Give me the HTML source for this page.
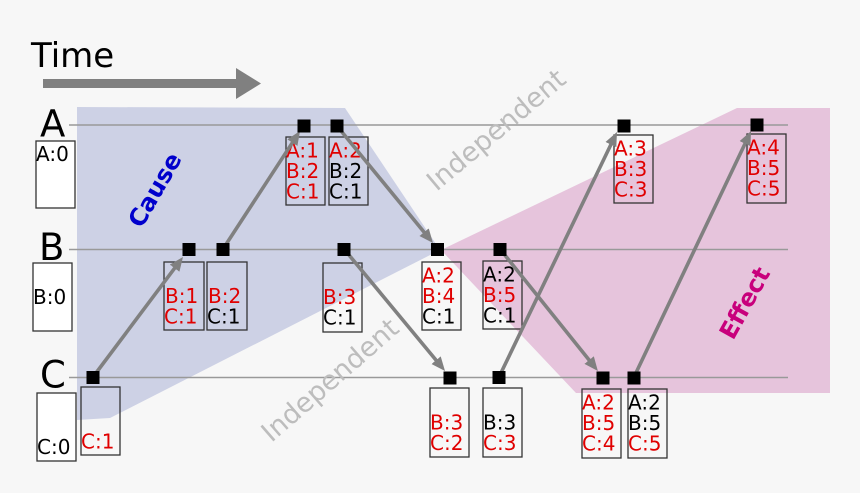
<!DOCTYPE html>
<html>
<head>
<meta charset="utf-8">
<style>
html,body{margin:0;padding:0;background:#f7f7f7;}
svg{display:block;}
text{font-family:"DejaVu Sans","Liberation Sans",sans-serif;}
</style>
</head>
<body>
<svg width="860" height="493" viewBox="0 0 860 493" xmlns="http://www.w3.org/2000/svg">
<defs>
<marker id="ah" markerUnits="userSpaceOnUse" viewBox="0 -7 16 14" markerWidth="16" markerHeight="14" refX="3" refY="0" orient="auto">
<path d="M0,-6 L14,0 L0,6 Z" fill="#808080"/>
</marker>
</defs>
<rect x="0" y="0" width="860" height="493" fill="#f7f7f7"/>

<!-- shading -->
<polygon points="77,107 345,108 440,250 110,418 77,420" fill="#cdd1e5"/>
<polygon points="441,250 737,108 830,108 830,393 576,393" fill="#e6c4dc"/>

<!-- Time -->
<text x="31" y="67" font-size="34" fill="#000">Time</text>
<rect x="43" y="79" width="194" height="9" fill="#808080"/>
<polygon points="236,68 261,83.5 236,99" fill="#808080"/>

<!-- timelines -->
<line x1="69" y1="125" x2="788" y2="125" stroke="#999" stroke-width="1.4"/>
<line x1="69" y1="249.5" x2="788" y2="249.5" stroke="#999" stroke-width="1.4"/>
<line x1="69" y1="377.5" x2="788" y2="377.5" stroke="#999" stroke-width="1.4"/>

<text x="40" y="136.5" font-size="37" fill="#000">A</text>
<text x="39" y="260" font-size="37" fill="#000">B</text>
<text x="40" y="387.5" font-size="37" fill="#000">C</text>

<!-- Independent labels -->
<text transform="translate(502,137) rotate(-40)" x="0" y="0" text-anchor="middle" font-size="27" fill="#bdbdbd">Independent</text>
<text transform="translate(336,387) rotate(-41)" x="0" y="0" text-anchor="middle" font-size="27" fill="#bdbdbd">Independent</text>

<!-- Cause / Effect -->
<text transform="translate(162,194) rotate(-60)" x="0" y="0" text-anchor="middle" font-size="24" font-weight="bold" fill="#0000cc">Cause</text>
<text transform="translate(752,307) rotate(-61)" x="0" y="0" text-anchor="middle" font-size="24" font-weight="bold" fill="#c8007c">Effect</text>

<!-- boxes -->
<g stroke="#333" stroke-width="1.3">
<rect x="36" y="141" width="39" height="67" fill="#fff"/>
<rect x="33" y="263" width="39" height="68" fill="#fff"/>
<rect x="37" y="393" width="39" height="68" fill="#fff"/>
<g fill="none">
<rect x="286" y="137" width="39" height="68"/>
<rect x="329" y="137" width="39" height="68"/>
<rect x="614" y="135" width="39" height="68"/>
<rect x="747" y="134" width="39" height="69"/>
<rect x="164" y="262" width="40" height="68"/>
<rect x="207" y="262" width="40" height="68"/>
<rect x="323" y="263" width="39" height="69"/>
<rect x="422" y="262" width="39" height="68"/>
<rect x="483" y="261" width="39" height="68"/>
<rect x="81" y="387" width="39" height="68"/>
<rect x="430" y="388" width="39" height="69"/>
<rect x="483" y="388" width="39" height="69"/>
<rect x="582" y="389" width="39" height="69"/>
<rect x="628" y="389" width="39" height="69"/>
</g>
</g>

<!-- box texts -->
<g font-size="20">
<text x="36" y="161" fill="#000">A:0</text>
<text x="33" y="304" fill="#000">B:0</text>
<text x="37" y="454" fill="#000">C:0</text>

<text x="286" y="157.5" fill="#e00000">A:1</text>
<text x="286" y="178" fill="#e00000">B:2</text>
<text x="286" y="198.5" fill="#e00000">C:1</text>

<text x="329" y="157.5" fill="#e00000">A:2</text>
<text x="329" y="178" fill="#000">B:2</text>
<text x="329" y="198.5" fill="#000">C:1</text>

<text x="614" y="155.5" fill="#e00000">A:3</text>
<text x="614" y="176" fill="#e00000">B:3</text>
<text x="614" y="196.5" fill="#e00000">C:3</text>

<text x="747" y="154.5" fill="#e00000">A:4</text>
<text x="747" y="175" fill="#e00000">B:5</text>
<text x="747" y="195.5" fill="#e00000">C:5</text>

<text x="165" y="303" fill="#e00000">B:1</text>
<text x="164" y="323.5" fill="#e00000">C:1</text>

<text x="208" y="303" fill="#e00000">B:2</text>
<text x="207" y="323.5" fill="#000">C:1</text>

<text x="323" y="304" fill="#e00000">B:3</text>
<text x="323" y="324.5" fill="#000">C:1</text>

<text x="422" y="282.5" fill="#e00000">A:2</text>
<text x="422" y="303" fill="#e00000">B:4</text>
<text x="422" y="323.5" fill="#000">C:1</text>

<text x="483" y="281.5" fill="#000">A:2</text>
<text x="483" y="302" fill="#e00000">B:5</text>
<text x="483" y="322.5" fill="#000">C:1</text>

<text x="81" y="448.5" fill="#e00000">C:1</text>

<text x="430" y="429.5" fill="#e00000">B:3</text>
<text x="430" y="450" fill="#e00000">C:2</text>

<text x="483" y="429.5" fill="#000">B:3</text>
<text x="483" y="450" fill="#e00000">C:3</text>

<text x="582" y="409.5" fill="#e00000">A:2</text>
<text x="582" y="430" fill="#e00000">B:5</text>
<text x="582" y="450.5" fill="#e00000">C:4</text>

<text x="628" y="409.5" fill="#000">A:2</text>
<text x="628" y="430" fill="#000">B:5</text>
<text x="628" y="450.5" fill="#e00000">C:5</text>
</g>

<!-- arrows -->
<g stroke="#808080" stroke-width="3.6" fill="none" marker-end="url(#ah)">
<line x1="93" y1="377" x2="176.4" y2="265.8"/>
<line x1="223" y1="249" x2="294" y2="140.2"/>
<line x1="337" y1="126" x2="426" y2="234.5"/>
<line x1="344" y1="249" x2="438" y2="362.5"/>
<line x1="499" y1="377" x2="612.2" y2="141.9"/>
<line x1="500" y1="249" x2="591" y2="362.4"/>
<line x1="634" y1="377" x2="746.3" y2="141"/>
</g>

<!-- nodes -->
<g fill="#000">
<rect x="297.5" y="119.5" width="13" height="13"/>
<rect x="330.5" y="119.5" width="13" height="13"/>
<rect x="617.5" y="119.5" width="13" height="13"/>
<rect x="750.5" y="118.5" width="13" height="13"/>

<rect x="182.5" y="243" width="13" height="13"/>
<rect x="216.5" y="243" width="13" height="13"/>
<rect x="337.5" y="243" width="13" height="13"/>
<rect x="431" y="243" width="13" height="13"/>
<rect x="493.5" y="243" width="13" height="13"/>

<rect x="86.5" y="371" width="13" height="13"/>
<rect x="443.5" y="371.5" width="13" height="13"/>
<rect x="492.5" y="371" width="13" height="13"/>
<rect x="596.5" y="371.5" width="13" height="13"/>
<rect x="627.5" y="371.5" width="13" height="13"/>
</g>
</svg>
</body>
</html>
